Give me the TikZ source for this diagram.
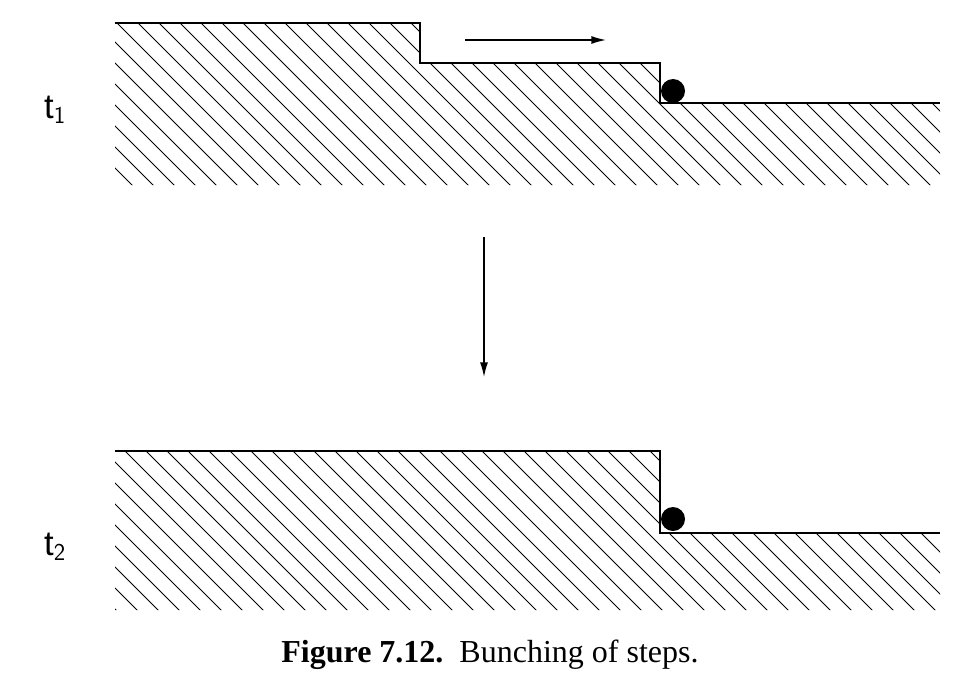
\documentclass[tikz,border=0pt]{standalone}
\usepackage{fontspec}
\setmainfont{Liberation Serif}
\newfontfamily\lab{Liberation Sans}
\begin{document}
\begin{tikzpicture}[x=0.75pt,y=-0.75pt,
  surf/.style={line width=1.6pt},
  hatch/.style={line width=0.6pt},
  ball/.style={circle,fill=black,minimum size=18pt,inner sep=0pt},
  arr/.style={line width=1pt,-{Latex[length=11pt,width=6pt]}},
  lbl/.style={font=\lab\fontsize{26}{28}\selectfont}]
\usetikzlibrary{arrows.meta}
\useasboundingbox (0,0) rectangle (955,685);
% top
\begin{scope}
\clip (115,23) -- (420,23) -- (420,63) -- (660,63) -- (660,103) -- (940,103) -- (940,185) -- (115,185) -- cycle;
\foreach \i in {-200,-179,...,940} \draw[hatch] (\i,0) -- (\i+250,250);
\end{scope}
\draw[surf] (115,23) -- (420,23) -- (420,63) -- (660,63) -- (660,103) -- (940,103);
\node[ball] (b1) at (673,91) {};
\coordinate (a1) at (465,40); \coordinate (a2) at (606,40);
\draw[arr] (a1) -- (a2);
\node[lbl] (t1) at (55,110) {t$_{\mathsf 1}$};
% arrow
\coordinate (v1) at (484,237); \coordinate (v2) at (484,377);
\draw[arr] (v1) -- (v2);
% bottom
\begin{scope}
\clip (115,451) -- (660,451) -- (660,533) -- (940,533) -- (940,610) -- (115,610) -- cycle;
\foreach \i in {-200,-179,...,940} \draw[hatch] (\i,420) -- (\i+250,670);
\end{scope}
\draw[surf] (115,451) -- (660,451) -- (660,533) -- (940,533);
\node[ball] (b2) at (673,519) {};
\node[lbl] (t2) at (55,547) {t$_{\mathsf 2}$};
\node[font=\fontsize{24}{26}\selectfont] (cap) at (490,655) {\textbf{Figure 7.12.}\ \ Bunching of steps.};
\end{tikzpicture}
\end{document}
